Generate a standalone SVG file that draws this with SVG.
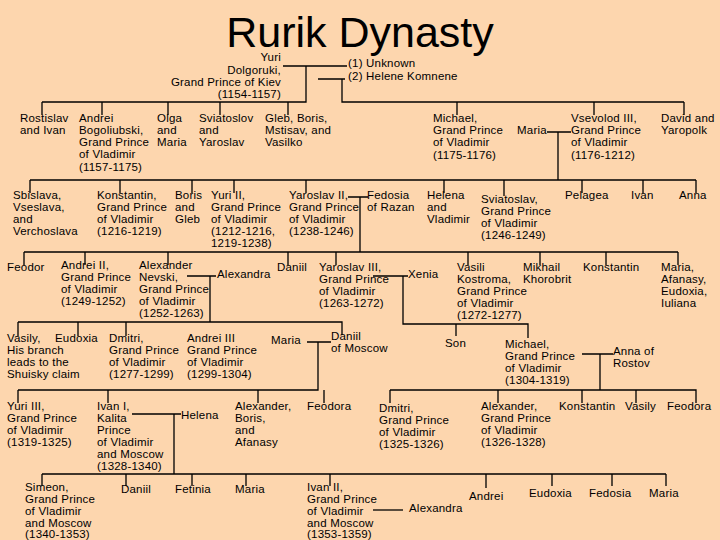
<svg xmlns="http://www.w3.org/2000/svg" width="720" height="540" viewBox="0 0 720 540">
<style>
text{font-family:"Liberation Sans",Arial,sans-serif;font-size:11.5px;letter-spacing:0.2px;fill:#000}
.t{font-size:43px;letter-spacing:0}
.r{text-anchor:end}
#connectors path{stroke:#000;stroke-width:1.3;fill:none}
</style>
<rect width="720" height="540" fill="#FDD6AE"/>
<text class="t" x="360" y="47" text-anchor="middle">Rurik Dynasty</text>
<g id="connectors">
<path d="M283 66H347M306 66V102H42M102 102V115M168 102V115M220 102V115M288 102V115M42 102V115"/>
<path d="M318 79H345M342 79V102H684M457 102V115M594 102V115M684 102V115"/>
<path d="M547 132H571M558 132V180H30M30 180V193M120 180V193M192 180V193M234 180V193M306 180V193M444 180V193M504 180V196M558 180H696M582 180V193M643 180V193M696 180V193"/>
<path d="M348 197H368M360 197V252H24M24 252V265M85 252V265M168 252V265M288 252V265M336 252V265M360 252H678M468 252V265M540 252V265M606 252V265M678 252V265"/>
<path d="M187 276H216M210 276V322H18M18 322V336M78 322V336M126 322V336M210 322H342V335"/>
<path d="M373 276H408M403 276V324H528V338M456 324V336"/>
<path d="M307 342H331M318 342V390H18M18 390V403M108 390V403M258 390V403M324 390V403"/>
<path d="M582 354H613M600 354V390H390M390 390V403M498 390V403M582 390V403M636 390V403M600 390H696V403"/>
<path d="M132 414H181M174 414V474H42M42 474V486M126 474V486M192 474V486M246 474V486M330 474V486M174 474H666M486 474V488M552 474V486M612 474V486M666 474V486"/>
<path d="M373 510H403"/>
</g>
<g id="yuri"><text class="r" x="281" y="61">Yuri</text><text class="r" x="281" y="74">Dolgoruki,</text><text class="r" x="281" y="86">Grand Prince of Kiev</text><text class="r" x="281" y="98">(1154-1157)</text></g>
<g id="wives"><text x="348" y="67">(1) Unknown</text><text x="348" y="80">(2) Helene Komnene</text></g>
<g id="rostislav"><text x="20" y="122">Rostislav</text><text x="20" y="134">and Ivan</text></g>
<g id="andrei"><text x="79" y="122">Andrei</text><text x="79" y="134">Bogoliubski,</text><text x="79" y="146">Grand Prince</text><text x="79" y="158">of Vladimir</text><text x="79" y="171">(1157-1175)</text></g>
<g id="olga"><text x="157" y="122">Olga</text><text x="157" y="134">and</text><text x="157" y="146">Maria</text></g>
<g id="sviatoslov"><text x="199" y="122">Sviatoslov</text><text x="199" y="134">and</text><text x="199" y="146">Yaroslav</text></g>
<g id="gleb"><text x="265" y="122">Gleb, Boris,</text><text x="265" y="134">Mstisav, and</text><text x="265" y="146">Vasilko</text></g>
<g id="michael1"><text x="433" y="122">Michael,</text><text x="433" y="134">Grand Prince</text><text x="433" y="146">of Vladimir</text><text x="433" y="159">(1175-1176)</text></g>
<g id="maria1"><text x="517" y="134">Maria</text></g>
<g id="vsevolod"><text x="571" y="122">Vsevolod III,</text><text x="571" y="134">Grand Prince</text><text x="571" y="146">of Vladimir</text><text x="571" y="159">(1176-1212)</text></g>
<g id="david"><text x="661" y="122">David and</text><text x="661" y="134">Yaropolk</text></g>
<g id="sbislava"><text x="13" y="199">Sbislava,</text><text x="13" y="211">Vseslava,</text><text x="13" y="223">and</text><text x="13" y="235">Verchoslava</text></g>
<g id="konstantin1"><text x="97" y="199">Konstantin,</text><text x="97" y="211">Grand Prince</text><text x="97" y="223">of Vladimir</text><text x="97" y="235">(1216-1219)</text></g>
<g id="boris"><text x="175" y="199">Boris</text><text x="175" y="211">and</text><text x="175" y="223">Gleb</text></g>
<g id="yuri2"><text x="211" y="199">Yuri II,</text><text x="211" y="211">Grand Prince</text><text x="211" y="223">of Vladimir</text><text x="211" y="235">(1212-1216,</text><text x="211" y="247">1219-1238)</text></g>
<g id="yaroslav2"><text x="289" y="199">Yaroslav II,</text><text x="289" y="211">Grand Prince</text><text x="289" y="223">of Vladimir</text><text x="289" y="235">(1238-1246)</text></g>
<g id="fedosia1"><text x="367" y="199">Fedosia</text><text x="367" y="211">of Razan</text></g>
<g id="helena1"><text x="427" y="199">Helena</text><text x="427" y="211">and</text><text x="427" y="223">Vladimir</text></g>
<g id="sviatoslav"><text x="481" y="203">Sviatoslav,</text><text x="481" y="215">Grand Prince</text><text x="481" y="227">of Vladimir</text><text x="481" y="239">(1246-1249)</text></g>
<g id="pelagea"><text x="565" y="199">Pelagea</text></g>
<g id="ivan"><text x="631" y="199">Ivan</text></g>
<g id="anna"><text x="679" y="199">Anna</text></g>
<g id="feodor"><text x="7" y="271">Feodor</text></g>
<g id="andrei2"><text x="61" y="269">Andrei II,</text><text x="61" y="281">Grand Prince</text><text x="61" y="293">of Vladimir</text><text x="61" y="305">(1249-1252)</text></g>
<g id="alexander"><text x="139" y="269">Alexander</text><text x="139" y="281">Nevski,</text><text x="139" y="293">Grand Prince</text><text x="139" y="305">of Vladimir</text><text x="139" y="317">(1252-1263)</text></g>
<g id="alexandra1"><text x="217" y="278">Alexandra</text></g>
<g id="daniil1"><text x="277" y="271">Daniil</text></g>
<g id="yaroslav3"><text x="319" y="271">Yaroslav III,</text><text x="319" y="283">Grand Prince</text><text x="319" y="295">of Vladimir</text><text x="319" y="307">(1263-1272)</text></g>
<g id="xenia"><text x="408" y="278">Xenia</text></g>
<g id="vasili"><text x="457" y="271">Vasili</text><text x="457" y="283">Kostroma,</text><text x="457" y="295">Grand Prince</text><text x="457" y="307">of Vladimir</text><text x="457" y="319">(1272-1277)</text></g>
<g id="mikhail"><text x="523" y="271">Mikhail</text><text x="523" y="283">Khorobrit</text></g>
<g id="konstantin2"><text x="583" y="271">Konstantin</text></g>
<g id="maria2"><text x="661" y="271">Maria,</text><text x="661" y="283">Afanasy,</text><text x="661" y="295">Eudoxia,</text><text x="661" y="307">Iuliana</text></g>
<g id="vasily1"><text x="7" y="342">Vasily,</text><text x="7" y="354">His branch</text><text x="7" y="366">leads to the</text><text x="7" y="378">Shuisky claim</text></g>
<g id="eudoxia1"><text x="55" y="342">Eudoxia</text></g>
<g id="dmitri1"><text x="109" y="342">Dmitri,</text><text x="109" y="354">Grand Prince</text><text x="109" y="366">of Vladimir</text><text x="109" y="378">(1277-1299)</text></g>
<g id="andrei3"><text x="187" y="342">Andrei III</text><text x="187" y="354">Grand Prince</text><text x="187" y="366">of Vladimir</text><text x="187" y="378">(1299-1304)</text></g>
<g id="maria3"><text x="271" y="344">Maria</text></g>
<g id="daniilm"><text x="331" y="340">Daniil</text><text x="331" y="352">of Moscow</text></g>
<g id="son"><text x="445" y="347">Son</text></g>
<g id="michael2"><text x="505" y="348">Michael,</text><text x="505" y="360">Grand Prince</text><text x="505" y="372">of Vladimir</text><text x="505" y="384">(1304-1319)</text></g>
<g id="annar"><text x="613" y="355">Anna of</text><text x="613" y="367">Rostov</text></g>
<g id="yuri3"><text x="7" y="410">Yuri III,</text><text x="7" y="422">Grand Prince</text><text x="7" y="434">of Vladimir</text><text x="7" y="446">(1319-1325)</text></g>
<g id="ivan1"><text x="97" y="410">Ivan I,</text><text x="97" y="422">Kalita</text><text x="97" y="434">Prince</text><text x="97" y="446">of Vladimir</text><text x="97" y="458">and Moscow</text><text x="97" y="470">(1328-1340)</text></g>
<g id="helena2"><text x="181" y="419">Helena</text></g>
<g id="alexander2"><text x="235" y="410">Alexander,</text><text x="235" y="422">Boris,</text><text x="235" y="434">and</text><text x="235" y="446">Afanasy</text></g>
<g id="feodora1"><text x="307" y="410">Feodora</text></g>
<g id="dmitri2"><text x="379" y="412">Dmitri,</text><text x="379" y="424">Grand Prince</text><text x="379" y="436">of Vladimir</text><text x="379" y="448">(1325-1326)</text></g>
<g id="alexander3"><text x="481" y="410">Alexander,</text><text x="481" y="422">Grand Prince</text><text x="481" y="434">of Vladimir</text><text x="481" y="446">(1326-1328)</text></g>
<g id="konstantin3"><text x="559" y="410">Konstantin</text></g>
<g id="vasily2"><text x="625" y="410">Vasily</text></g>
<g id="feodora2"><text x="667" y="410">Feodora</text></g>
<g id="simeon"><text x="25" y="491">Simeon,</text><text x="25" y="503">Grand Prince</text><text x="25" y="515">of Vladimir</text><text x="25" y="527">and Moscow</text><text x="25" y="538">(1340-1353)</text></g>
<g id="daniil2"><text x="121" y="493">Daniil</text></g>
<g id="fetinia"><text x="175" y="493">Fetinia</text></g>
<g id="maria4"><text x="235" y="493">Maria</text></g>
<g id="ivan2"><text x="307" y="491">Ivan II,</text><text x="307" y="503">Grand Prince</text><text x="307" y="515">of Vladimir</text><text x="307" y="527">and Moscow</text><text x="307" y="538">(1353-1359)</text></g>
<g id="alexandra2"><text x="409" y="512">Alexandra</text></g>
<g id="andrei4"><text x="469" y="500">Andrei</text></g>
<g id="eudoxia2"><text x="529" y="497">Eudoxia</text></g>
<g id="fedosia2"><text x="589" y="497">Fedosia</text></g>
<g id="maria5"><text x="649" y="497">Maria</text></g>
</svg>
